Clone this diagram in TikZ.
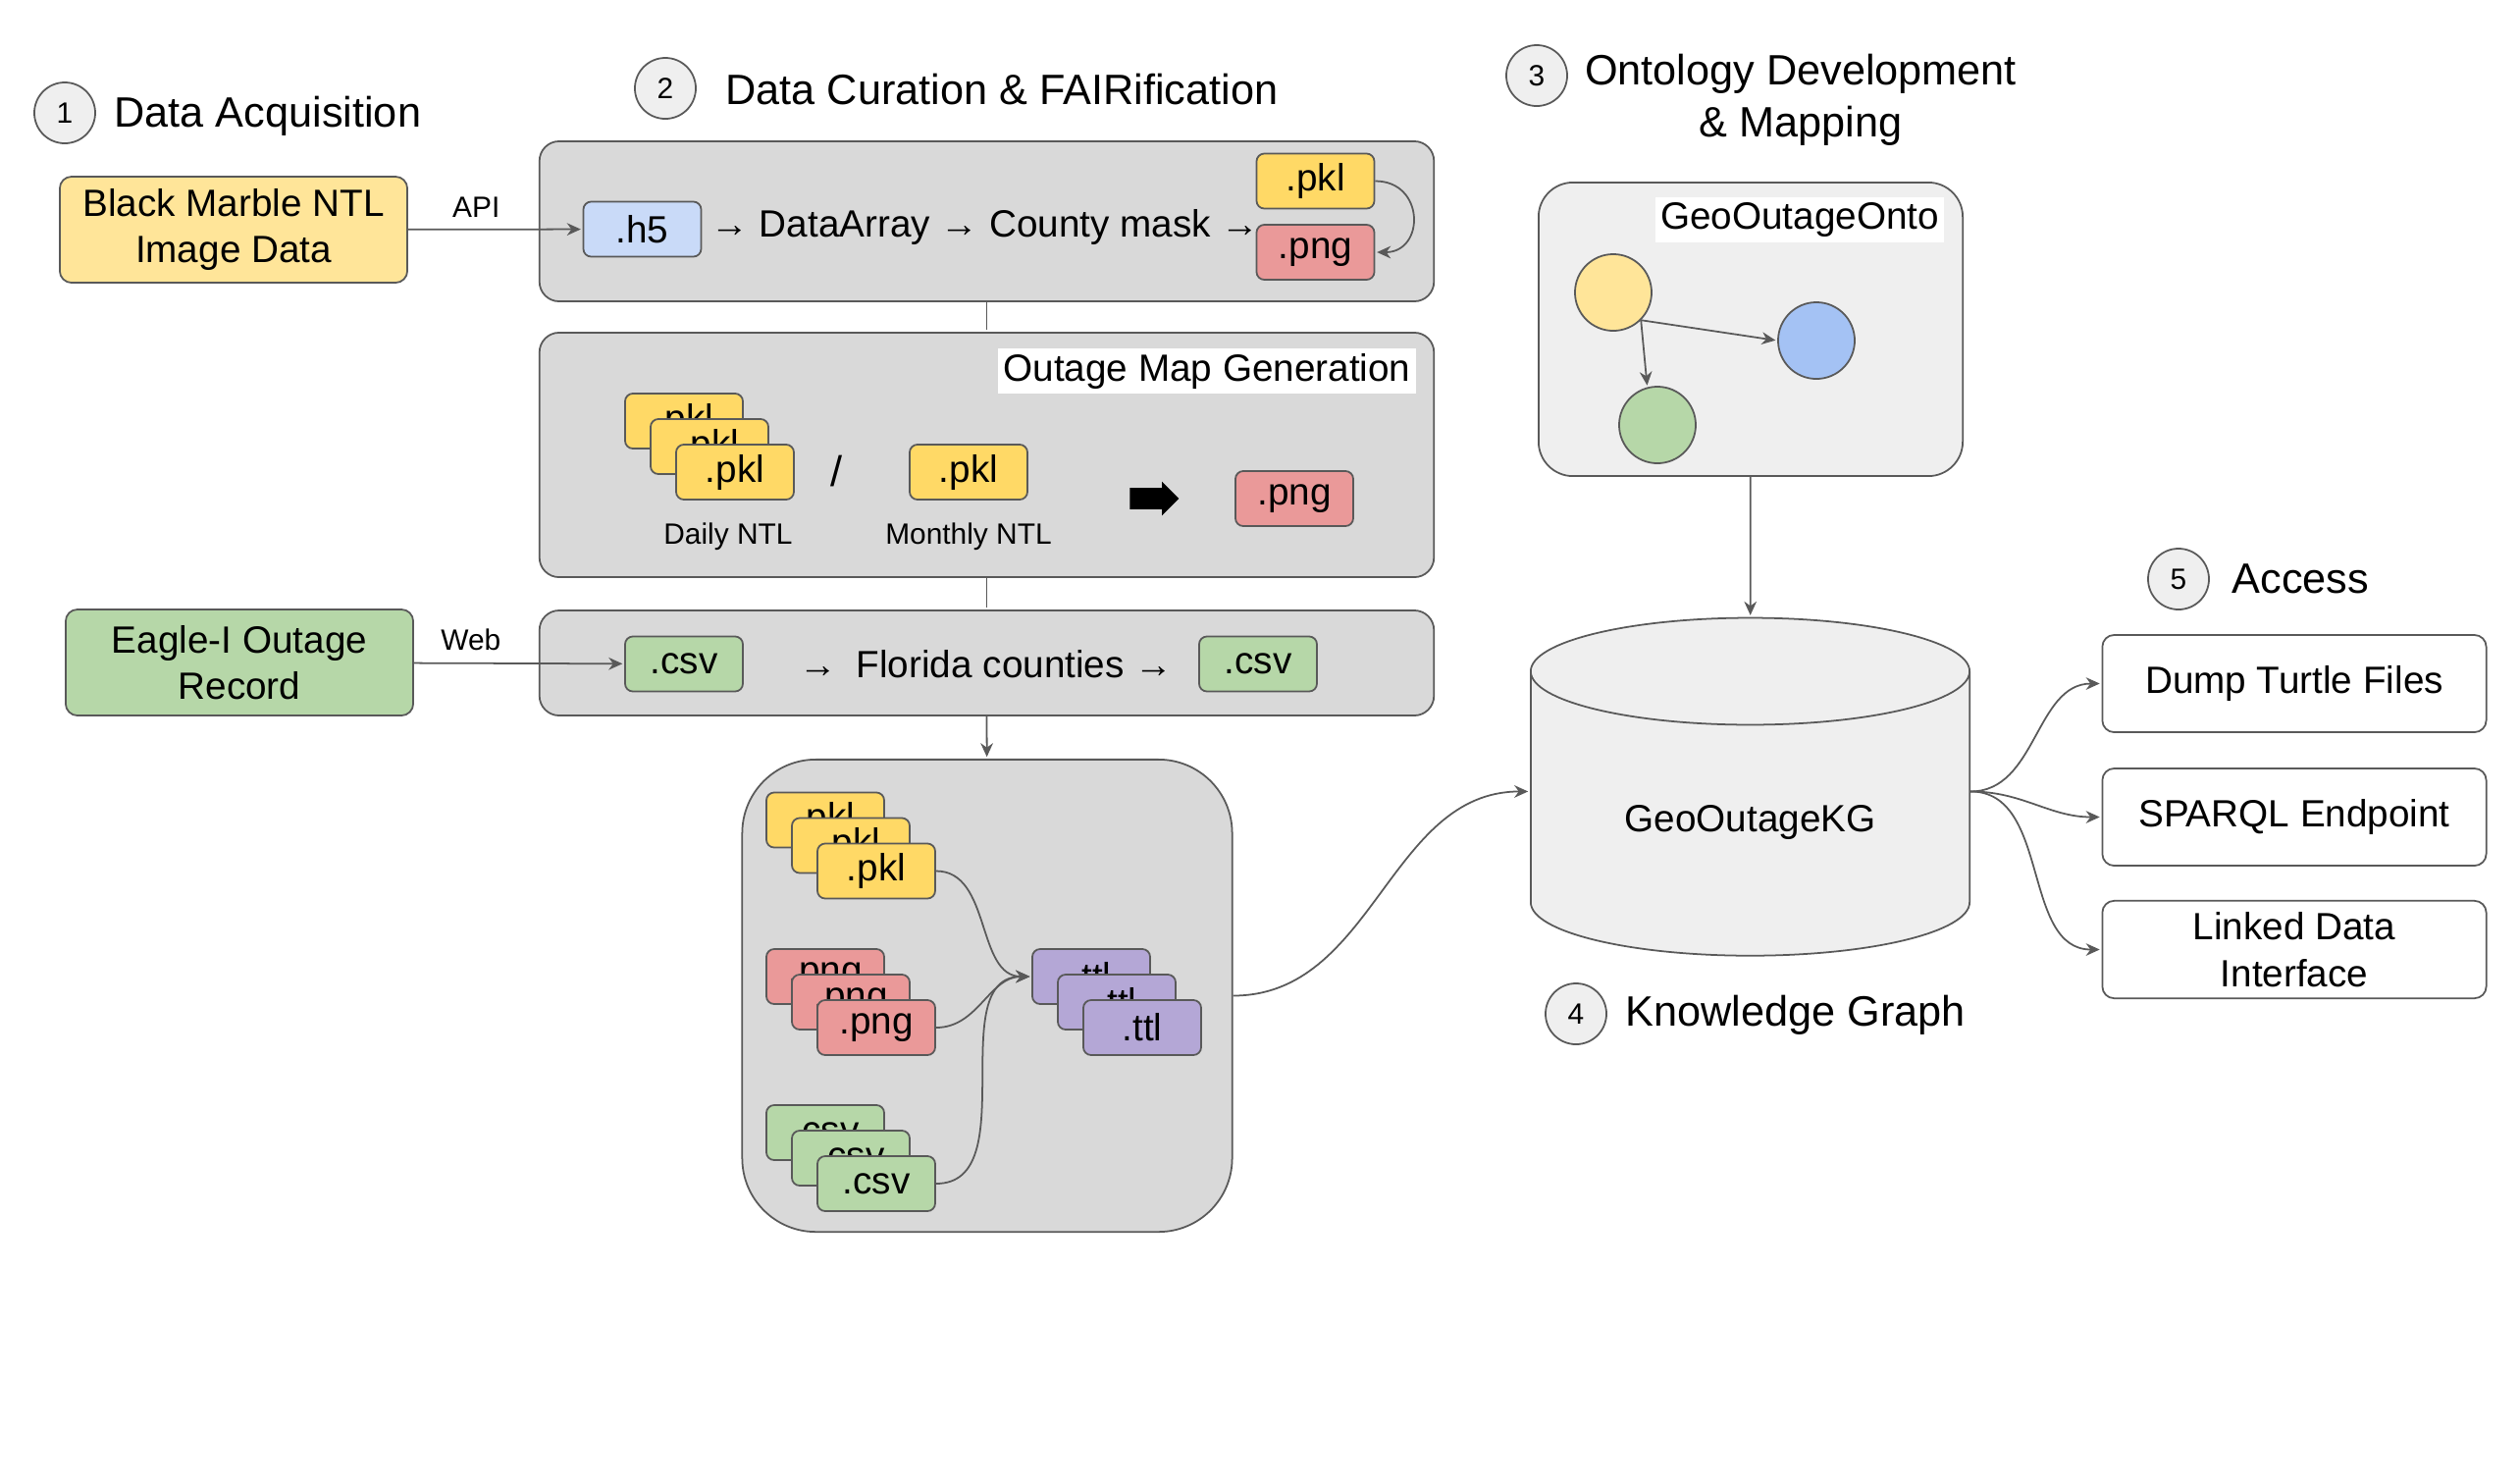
\documentclass[tikz,border=0pt]{standalone}
\usepackage{fontspec}
\setmainfont{Liberation Sans}
\usetikzlibrary{arrows.meta,shapes.geometric,shapes.arrows}
\definecolor{edgegray}{HTML}{595959}
\definecolor{stagegray}{HTML}{D9D9D9}
\definecolor{palegray}{HTML}{EFEFEF}
\definecolor{srcyellow}{HTML}{FFE599}
\definecolor{pklyellow}{HTML}{FFD966}
\definecolor{pngred}{HTML}{EA9999}
\definecolor{hfblue}{HTML}{C9DAF8}
\definecolor{csvgreen}{HTML}{B6D7A8}
\definecolor{ttlpurple}{HTML}{B4A7D6}
\definecolor{classblue}{HTML}{A4C2F4}
\newcommand{\fsmall}{\fontsize{8.5}{10}\selectfont}
\newcommand{\fmid}{\fontsize{11}{13.5}\selectfont}
\newcommand{\fbig}{\fontsize{12.3}{15.2}\selectfont}
\begin{document}
\begin{tikzpicture}[x=0.01cm, y=-0.01cm, line width=0.5pt, shorten >=0.5pt, auto, >={Stealth[length=4pt,width=3.6pt]},
every edge/.style={draw=edgegray},
step node/.style={circle,draw=edgegray,fill=palegray,minimum size=0.62cm,inner sep=0pt,font=\fsmall},
head node/.style={anchor=west,font=\fbig},
stage box/.style={rectangle,draw=edgegray,fill=stagegray,rounded corners=0.2cm,minimum width=9.11cm},
src box/.style={rectangle,draw=edgegray,rounded corners=0.12cm,minimum width=3.54cm,minimum height=1.08cm,align=center,font=\fmid},
file box/.style={rectangle,draw=edgegray,rounded corners=0.08cm,minimum width=1.2cm,minimum height=0.56cm,inner sep=0pt,font=\fmid},
access box/.style={rectangle,draw=edgegray,fill=white,rounded corners=0.12cm,minimum width=3.91cm,minimum height=0.99cm,align=center,font=\fmid},
tag/.style={fill=white,inner sep=1.5pt,font=\fmid},
class node/.style={circle,draw=edgegray,minimum size=0.78cm,inner sep=0pt}]
\useasboundingbox (0,0) rectangle (2568,1508);
\begin{scope}
\node[step node] (s1) at (66,115) {1};
\node[head node] (h1) at (104,118) {Data Acquisition};
\node[step node] (s2) at (678,90) {2};
\node[head node] (h2) at (727,91) {Data Curation \& FAIRification};
\node[step node] (s3) at (1566,77) {3};
\node[font=\fbig,align=center] (h3) at (1835,102) {Ontology Development\\\& Mapping};
\node[step node] (s4) at (1606,1033) {4};
\node[head node] (h4) at (1644,1034) {Knowledge Graph};
\node[step node] (s5) at (2220,590) {5};
\node[head node] (h5) at (2262,590) {Access};
%\node[step node] (s) at (,) {};
\end{scope}
\begin{scope}
\node[stage box,minimum height=1.63cm] (curate) at (1005.5,225.5) {};
\node[stage box,minimum height=2.49cm] (outage) at (1005.5,463.5) {};
\node[stage box,minimum height=1.07cm] (county) at (1005.5,675.5) {};
\node[stage box,rounded corners=0.75cm,minimum width=4.99cm,minimum height=4.81cm] (fair) at (1006,1014.5) {};
\node[stage box,fill=palegray,rounded corners=0.35cm,minimum width=4.32cm,minimum height=2.99cm] (onto) at (1784,335.5) {};
\node[cylinder,shape border rotate=90,aspect=0.39,draw=edgegray,fill=palegray,minimum width=4.47cm,minimum height=3.44cm,font=\fmid] (kg) at (1783.5,838) {GeoOutageKG};
\node[src box,fill=srcyellow] (marble) at (238,234) {Black Marble NTL\\Image Data};
\node[src box,fill=csvgreen] (eagle) at (244,675) {Eagle-I Outage\\Record};
\end{scope}
\begin{scope}
\node[file box,fill=hfblue] (hfive) at (654.5,233.5) {.h5};
\node[font=\fmid] (chain) at (1004,231) {→ DataArray → County mask →};
\node[file box,fill=pklyellow] (cpkl) at (1340.5,184.5) {.pkl};
\node[file box,fill=pngred] (cpng) at (1340.5,257) {.png};
\node[tag] (outtag) at (1230,378) {Outage Map Generation};
\foreach \i in {0,1,2}
  \node[file box,fill=pklyellow] (dpkl\i) at (697+26*\i,429+26*\i) {.pkl};
\node[font=\fbig] (slash) at (853,480) {/};
\node[file box,fill=pklyellow] (mpkl) at (987,481) {.pkl};
\node[font=\fsmall] (daily) at (742,547) {Daily NTL};
\node[font=\fsmall] (monthly) at (987,547) {Monthly NTL};
\node[single arrow,fill=black,inner sep=0.1cm,minimum height=0.5cm,single arrow head extend=0.065cm] (blk) at (1171,508) {};
\node[file box,fill=pngred] (opng) at (1319,508) {.png};
\node[file box,fill=csvgreen] (csvin) at (697,676.5) {.csv};
\node[font=\fmid] (fl) at (1005,677) {→\enspace Florida counties →};
\node[file box,fill=csvgreen] (csvout) at (1282,676.5) {.csv};
\foreach \i in {0,1,2}{
  \node[file box,fill=pklyellow] (kpkl\i) at (841+26*\i,835.5+26*\i) {.pkl};
  \node[file box,fill=pngred] (kpng\i) at (841+26*\i,995+26*\i) {.png};
  \node[file box,fill=csvgreen] (kcsv\i) at (841+26*\i,1154+26*\i) {.csv};
  \node[file box,fill=ttlpurple] (kttl\i) at (1112+26*\i,995+26*\i) {.ttl};
}
\node[tag] (ontotag) at (1834,224) {GeoOutageOnto};
\node[class node,fill=srcyellow] (c1) at (1644,298) {};
\node[class node,fill=classblue] (c2) at (1851,347) {};
\node[class node,fill=csvgreen] (c3) at (1689,433) {};
\node[access box] (dump) at (2338,696.5) {Dump Turtle Files};
\node[access box] (sparql) at (2338,832.5) {SPARQL Endpoint};
\node[access box] (ldi) at (2338,967.5) {Linked Data\\Interface};
\end{scope}
\begin{scope}
\path[->] (marble) edge node[pos=0.39,font=\fsmall]{API} (hfive);
\path[->] (eagle) edge node[pos=0.27,font=\fsmall]{Web} (csvin);
\path (curate) edge (outage);
\path (outage) edge (county);
\path[->] (county) edge (fair);
\path[->] (cpkl.east) edge[out=0,in=0,looseness=1.8] (cpng.east);
\path[->] (kpkl2.east) edge[out=0,in=180] (kttl0.west);
\path[->] (kpng2.east) edge[out=0,in=180] (kttl0.west);
\path[->] (kcsv2.east) edge[out=0,in=180] (kttl0.west);
\path[->] (fair.east) edge[out=0,in=180] (kg.172);
\path[->] (c1.south east) edge (c2.west);
\path[->] (c1.south east) edge (c3.105);
\path[->] (onto) edge (kg);
\path[->] (kg.8) edge[out=0,in=180] (dump.west);
\path[->] (kg.8) edge[out=0,in=180] (sparql.west);
\path[->] (kg.8) edge[out=0,in=180] (ldi.west);
%\path[->] (a) edge (b);
\end{scope}
\end{tikzpicture}
\end{document}
